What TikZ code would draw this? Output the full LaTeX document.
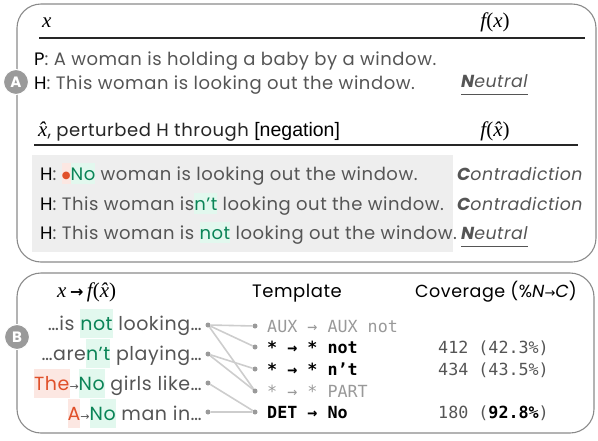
\documentclass[tikz,border=0pt]{standalone}
\usepackage{fontspec}
\setmainfont{Poppins}[LetterSpace=3]
\setmonofont{DejaVu Sans Mono}
\newfontfamily\helvfont{Liberation Sans}
\newfontfamily\symfont{DejaVu Sans}
\newfontfamily\serifont{Liberation Serif}
\usepackage{xcolor}
\definecolor{txtgray}{HTML}{555555}
\definecolor{tmplgray}{HTML}{999999}
\definecolor{neggreen}{HTML}{0B8457}
\definecolor{neggreenbg}{HTML}{E2F8EE}
\definecolor{negred}{HTML}{E0502A}
\definecolor{negredbg}{HTML}{FCE7E2}
\definecolor{boxgray}{HTML}{EEEEEE}
\definecolor{panelgray}{HTML}{8A8A8A}
\definecolor{linkgray}{HTML}{CDCDCD}
\definecolor{dotgray}{HTML}{9A9A9A}
\newcommand\hlstrut{\rule[-4pt]{0pt}{21pt}}
\newcommand\hl[3]{{\setlength{\fboxsep}{0pt}\colorbox{#1}{\hlstrut\textcolor{#2}{#3}}}}
\newcommand\hlg[1]{\hl{neggreenbg}{neggreen}{#1}}
\newcommand\hlr[1]{\hl{negredbg}{negred}{#1}}
\newcommand\smallarrow{{\symfont\fontsize{11}{11}\selectfont\textcolor{txtgray}{→}}}
\newcommand\vx{{\serifont\itshape x}}
\newcommand\vxhat{{\serifont\itshape \^{x}}}

\begin{document}
\begin{tikzpicture}[x=1pt,y=-1pt,
  panel/.style={draw=panelgray,line width=1.1pt,rounded corners=24pt},
  tag/.style={circle,fill=dotgray,draw=white,line width=1pt,text=white,inner sep=0pt,minimum size=25pt,font=\fontsize{15}{15}\selectfont\bfseries},
  rule/.style={line width=1.2pt,draw=black!85},
  sent/.style={anchor=base west,inner sep=0pt,text=txtgray,font=\fontsize{18}{21}\selectfont},
  head/.style={anchor=base,inner sep=0pt,font=\serifont\fontsize{21}{24}\selectfont},
  verdict/.style={anchor=base west,inner sep=0pt,text=txtgray,font=\fontsize{17.4}{21}\selectfont\itshape},
  uline/.style={draw=txtgray,line width=0.8pt},
  row node/.style={anchor=base east,inner sep=0pt,text=txtgray,font=\fontsize{19}{21}\selectfont\def\hlstrut{\rule[-8pt]{0pt}{29pt}}},
  tmpl/.style={anchor=base west,inner sep=0pt,font=\fontsize{16.7}{20}\selectfont\ttfamily},
  dot/.style={circle,fill=dotgray,inner sep=0pt,minimum size=5pt},
  link/.style={draw=linkgray,line width=1.6pt}]
\useasboundingbox (0,0) rectangle (598,440);

\draw[panel] (17,4) rectangle (596,262);
\draw[panel] (17,273) rectangle (594,433);
\node[tag] (A) at (16,82) {A};
\node[tag] (B) at (17,337) {B};

\node[head,anchor=base west] (x) at (42,27) {\vx};
\node[head] (fx) at (495,27) {{\itshape f}(\vx)};
\draw[rule] (39,38) -- (585,38);
\node[sent] (P) at (34,65) {\textcolor{black}{P}: A woman is holding a baby by a window.};
\node[sent] (H) at (34,89) {\textcolor{black}{H}: This woman is looking out the window.};
\node[verdict] (n1) at (461,87) {{\bfseries N}eutral};
\draw[uline] ([yshift=-7pt]n1.base west) -- ([yshift=-7pt]n1.base east);

\node[head,anchor=base west] (xhat) at (38,136) {\vxhat{\rmfamily\fontsize{18}{21}\selectfont\textcolor{black!85}{, perturbed H through} {\helvfont\fontsize{19.5}{21}\selectfont [negation]}}};
\node[head] (fxhat) at (495,136) {{\itshape f}(\vxhat)};
\draw[rule] (34,145) -- (578,145);
\fill[boxgray] (32,155) rectangle (453,252);
\node[sent] (H1) at (40,180) {\textcolor{black}{H}: \hlr{\raisebox{1.5pt}{\symfont\fontsize{10}{10}\selectfont●}}\hlg{No} woman is looking out the window.};
\node[sent] (H2) at (40,210) {\textcolor{black}{H}: This woman is\hlg{n’t} looking out the window.};
\node[sent] (H3) at (40,239) {\textcolor{black}{H}: This woman is \hlg{not} looking out the window.};
\node[verdict] (c1) at (457,180) {{\bfseries C}ontradiction};
\node[verdict] (c2) at (457,210) {{\bfseries C}ontradiction};
\node[verdict] (n2) at (461,239) {{\bfseries N}eutral};
\draw[uline] ([yshift=-7pt]n2.base west) -- ([yshift=-7pt]n2.base east);

\node[head,anchor=base west] (xf) at (57,297) {\vx\,{\symfont\fontsize{16}{16}\selectfont\bfseries→}\,{\itshape f}(\vxhat)};
\node[anchor=base,inner sep=0pt,font=\fontsize{18}{21}\selectfont] (tmplhead) at (297,297) {Template};
\node[anchor=base west,inner sep=0pt,font=\fontsize{17.5}{21}\selectfont] (covhead) at (415,297) {Coverage (\%{\itshape N}{\symfont\fontsize{13}{13}\selectfont→}{\itshape C})};

\node[row node] (r1) at (202,330) {…is \hlg{not} looking…};
\node[row node] (r2) at (202,360) {…are\hlg{n’t} playing…};
\node[row node] (r3) at (202,390) {\hlr{The}\smallarrow\hlg{No} girls like…};
\node[row node] (r4) at (202,420) {\hlr{A}\smallarrow\hlg{No} man in…};

\node[dot] (l1) at (208,325) {};
\node[dot] (l2) at (208,354) {};
\node[dot] (l3) at (208,383) {};
\node[dot] (l4) at (208,412) {};
\node[dot] (t1) at (255,326) {};
\node[dot] (t2) at (255,347) {};
\node[dot] (t3) at (255,369) {};
\node[dot] (t4) at (255,391) {};
\node[dot] (t5) at (255,412) {};

\path[link]
  (l1) edge (t1)
  (l1) edge (t2)
  (l1) edge (t4)
  (l2) edge (t3)
  (l2) edge (t4)
  (l3) edge (t5)
  (l4) edge (t5);

\node[tmpl,text=tmplgray] (T1) at (267,332) {AUX → AUX not};
\node[tmpl,font=\fontsize{16.7}{20}\selectfont\ttfamily\bfseries] (T2) at (267,353.5) {* → * not};
\node[tmpl,font=\fontsize{16.7}{20}\selectfont\ttfamily\bfseries] (T3) at (267,375) {* → * n’t};
\node[tmpl,text=tmplgray] (T4) at (267,397) {* → * PART};
\node[tmpl,font=\fontsize{16.7}{20}\selectfont\ttfamily\bfseries] (T5) at (267,418.5) {DET → No};

\node[tmpl,text=txtgray] (cov2) at (438,353.5) {412 (42.3\%)};
\node[tmpl,text=txtgray] (cov3) at (438,375) {434 (43.5\%)};
\node[tmpl,text=txtgray] (cov5) at (438,418.5) {180 (\textcolor{black}{\bfseries 92.8\%})};
\end{tikzpicture}
\end{document}
